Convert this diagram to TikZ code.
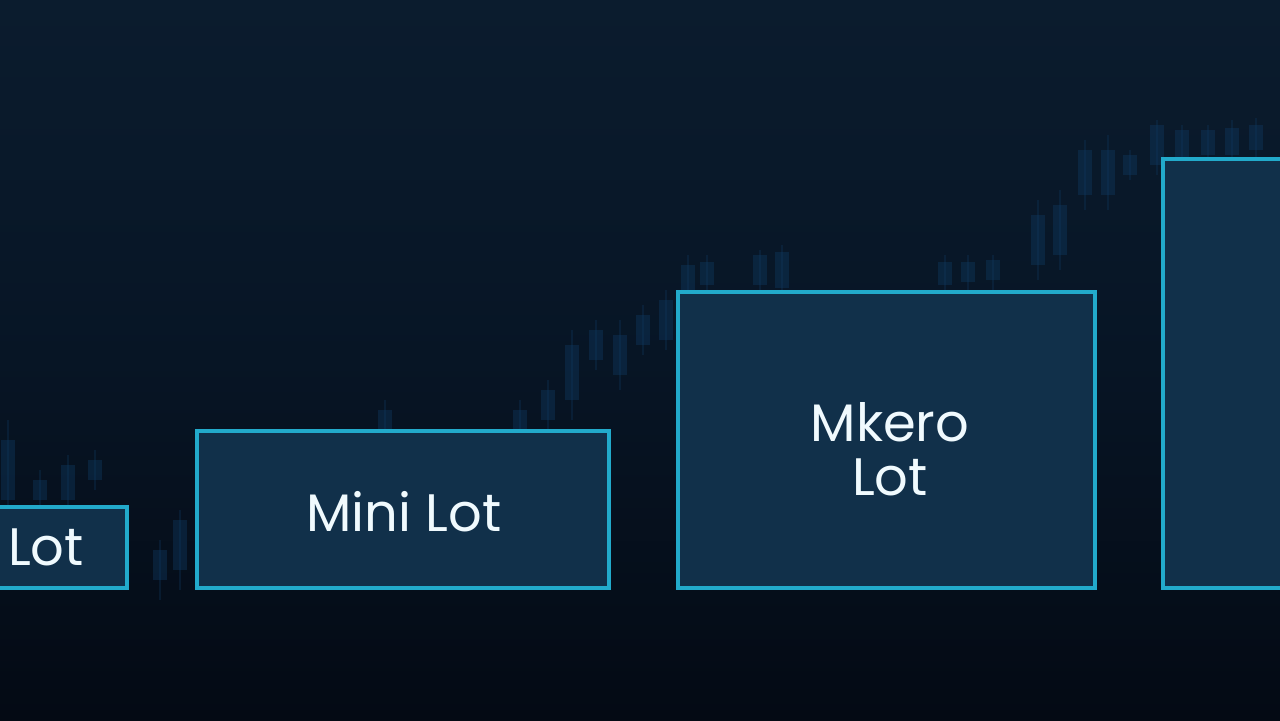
\documentclass[tikz,border=0pt]{standalone}
\usepackage{fontspec}
\setmainfont{Poppins}
\begin{document}
\begin{tikzpicture}[x=0.1mm,y=-0.1mm]
\definecolor{bgtop}{HTML}{0B1C2E}
\definecolor{bgmid}{HTML}{071525}
\definecolor{bgbot}{HTML}{040A14}
\definecolor{boxfill}{HTML}{11304A}
\definecolor{boxline}{HTML}{22AACB}
\definecolor{candle}{HTML}{0F3A62}
\tikzset{
  lotbox/.style={draw=boxline, line width=0.9pt, fill=boxfill},
  lottext/.style={text=white!94!cyan, font=\fontsize{15}{17}\selectfont},
  candlebody/.style={fill=candle, draw=none, opacity=0.4},
  candlewick/.style={draw=candle, line width=0.6pt, opacity=0.3}
}
\useasboundingbox (0,0) rectangle (1280,720);
\shade[top color=bgtop, bottom color=bgbot, middle color=bgmid] (0,0) rectangle (1280,720);
% faint candlesticks
\foreach \x/\a/\b/\c/\d in {
  8/420/440/500/520, 40/470/480/500/510, 68/455/465/500/510, 95/450/460/480/490,
  160/540/550/580/600, 180/510/520/570/590, 385/400/410/440/450,
  520/400/410/430/440, 548/380/390/420/430, 572/330/345/400/420, 596/320/330/360/370,
  620/320/335/375/390, 643/305/315/345/355, 666/290/300/340/350,
  688/255/265/290/300, 707/255/262/285/292, 760/250/255/285/292, 782/245/252/288/295,
  945/255/262/285/290, 968/255/262/282/290, 993/255/260/280/290,
  1038/200/215/265/280, 1060/190/205/255/270, 1085/140/150/195/210, 1108/135/150/195/210,
  1130/150/155/175/180, 1157/120/125/165/175, 1182/125/130/160/165, 1208/125/130/155/165, 1232/120/128/155/162, 1256/118/125/150/158}
{
  \draw[candlewick] (\x,\a) -- (\x,\d);
  \fill[candlebody] (\x-7,\b) rectangle (\x+7,\c);
}
% boxes
\draw[lotbox] (-20,507) rectangle (127,588);
\node[lottext] (lot1) at (46,547) {Lot};
\draw[lotbox] (197,431) rectangle (609,588);
\node[lottext] (mini) at (404,512) {Mini Lot};
\draw[lotbox] (678,292) rectangle (1095,588);
\node[lottext, align=center, font=\fontsize{15}{15.5}\selectfont] (micro) at (890,449) {Mkero\\Lot};
\draw[lotbox] (1163,159) rectangle (1300,588);
\end{tikzpicture}
\end{document}
